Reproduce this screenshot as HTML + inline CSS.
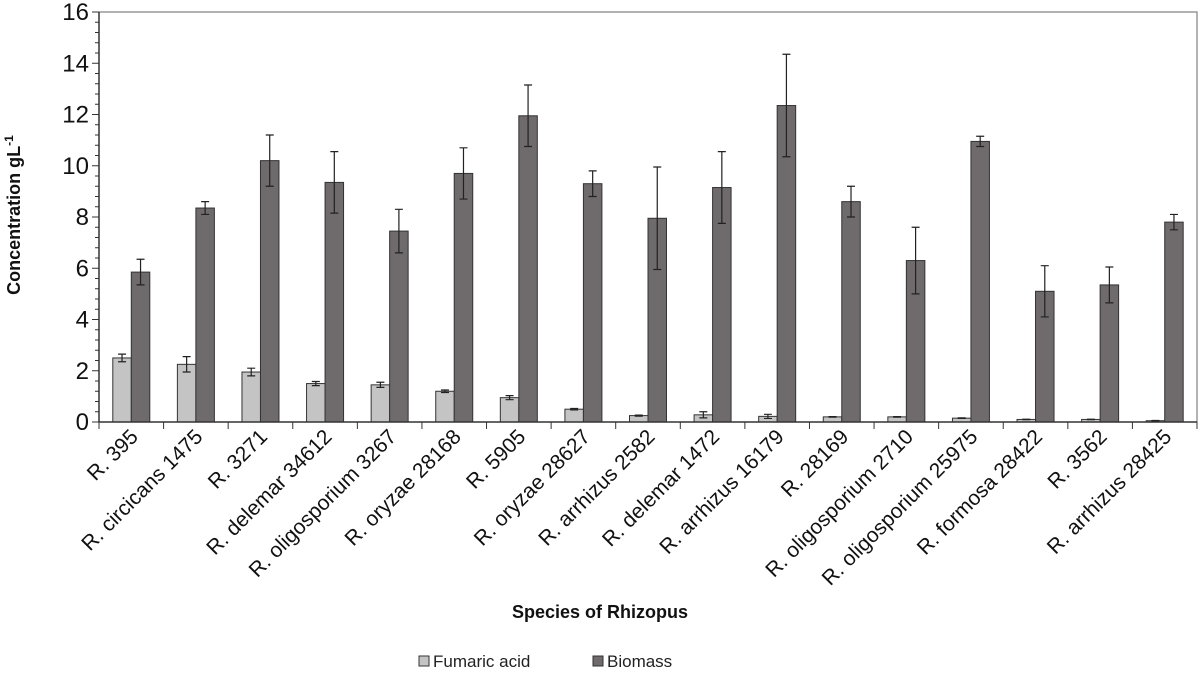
<!DOCTYPE html>
<html><head><meta charset="utf-8"><style>
body{margin:0;background:#fff;}
svg text{font-family:"Liberation Sans",Arial,sans-serif;}
</style></head><body>
<svg id="chart" width="1200" height="676" viewBox="0 0 1200 676" xmlns="http://www.w3.org/2000/svg">
<g id="grid"></g><g id="bars"></g><g id="axes"></g>
<text transform="translate(20,215) rotate(-90)" text-anchor="middle" font-size="18" font-weight="bold" fill="#111">Concentration gL<tspan font-size="12" dy="-7">-1</tspan></text>
<text x="600" y="618" text-anchor="middle" font-size="18" font-weight="bold" fill="#111">Species of Rhizopus</text>
<g>
<rect x="419" y="656" width="10" height="10" fill="#c4c4c4" stroke="#333" stroke-width="1"/>
<text x="433" y="667" font-size="17" fill="#222">Fumaric acid</text>
<rect x="593" y="656" width="10" height="10" fill="#6f6a6c" stroke="#333" stroke-width="1"/>
<text x="607" y="667" font-size="17" fill="#222">Biomass</text>
</g>
</svg>
<script>
const categories=["R. 395","R. circicans 1475","R. 3271","R. delemar 34612","R. oligosporium 3267","R. oryzae 28168","R. 5905","R. oryzae 28627","R. arrhizus 2582","R. delemar 1472","R. arrhizus 16179","R. 28169","R. oligosporium 2710","R. oligosporium 25975","R. formosa 28422","R. 3562","R. arrhizus 28425"];
const fumaric=[2.5,2.25,1.95,1.5,1.45,1.2,0.95,0.5,0.25,0.28,0.22,0.2,0.2,0.15,0.1,0.1,0.05];
const fumaricErr=[0.15,0.3,0.15,0.08,0.1,0.05,0.08,0.03,0.02,0.12,0.08,0.01,0.01,0.01,0.01,0.01,0.01];
const biomass=[5.85,8.35,10.2,9.35,7.45,9.7,11.95,9.3,7.95,9.15,12.35,8.6,6.3,10.95,5.1,5.35,7.8];
const biomassErr=[0.5,0.25,1.0,1.2,0.85,1.0,1.2,0.5,2.0,1.4,2.0,0.6,1.3,0.2,1.0,0.7,0.3];
const yTicks=[0,2,4,6,8,10,12,14,16];
const NS="http://www.w3.org/2000/svg";
const L=99,R=1197,T=12,B=422,YMAX=16;
const y=v=>B-(v/YMAX)*(B-T);
const cw=(R-L)/categories.length;
const xc=i=>L+cw*(i+0.5);
function mk(tag,attrs,parent){const e=document.createElementNS(NS,tag);for(const k in attrs)e.setAttribute(k,attrs[k]);parent.appendChild(e);return e;}
const axes=document.getElementById('axes'),bars=document.getElementById('bars');
let fr=mk('path',{d:`M${L} ${T}H${R}V${B}`,fill:'none',stroke:'#999','stroke-width':1.5},axes);


let ya=mk('line',{x1:L,y1:T,x2:L,y2:B,stroke:'#333','stroke-width':1.5},axes);


let xa=mk('line',{x1:L,y1:B,x2:R,y2:B,stroke:'#333','stroke-width':1.5},axes);


for(let v=0;v<=YMAX+1e-9;v+=0.4){const major=Math.abs(v/2-Math.round(v/2))<1e-6;mk('line',{x1:major?L-7:L-4,x2:L,y1:y(v),y2:y(v),stroke:'#333','stroke-width':1},axes);}
yTicks.forEach(v=>{const t=mk('text',{x:L-10,y:y(v)+8,'text-anchor':'end','font-size':24,fill:'#111'},axes);t.textContent=v;

});
for(let i=0;i<=categories.length;i++)mk('line',{x1:L+cw*i,x2:L+cw*i,y1:B,y2:B+7,stroke:'#333','stroke-width':1},axes);
categories.forEach((c,i)=>{const t=mk('text',{transform:`translate(${xc(i)+8},${B+16}) rotate(-45)`,'text-anchor':'end','font-size':21,fill:'#111'},axes);t.textContent=c;

});
const bw=18.5;
function errBar(x,v,e){mk('path',{d:`M${x} ${y(v+e)}V${y(Math.max(0,v-e))}M${x-4} ${y(v+e)}H${x+4}M${x-4} ${y(Math.max(0,v-e))}H${x+4}`,stroke:'#222','stroke-width':1.2,fill:'none'},bars);}
categories.forEach((c,i)=>{
 const f=mk('rect',{x:xc(i)-bw,y:y(fumaric[i]),width:bw,height:B-y(fumaric[i]),fill:'#c4c4c4',stroke:'#333','stroke-width':1},bars);
 
 
 const b=mk('rect',{x:xc(i),y:y(biomass[i]),width:bw,height:B-y(biomass[i]),fill:'#6f6a6c',stroke:'#333','stroke-width':1},bars);
 
 
 errBar(xc(i)-bw/2,fumaric[i],fumaricErr[i]);
 errBar(xc(i)+bw/2,biomass[i],biomassErr[i]);
});
</script>
</body></html>
